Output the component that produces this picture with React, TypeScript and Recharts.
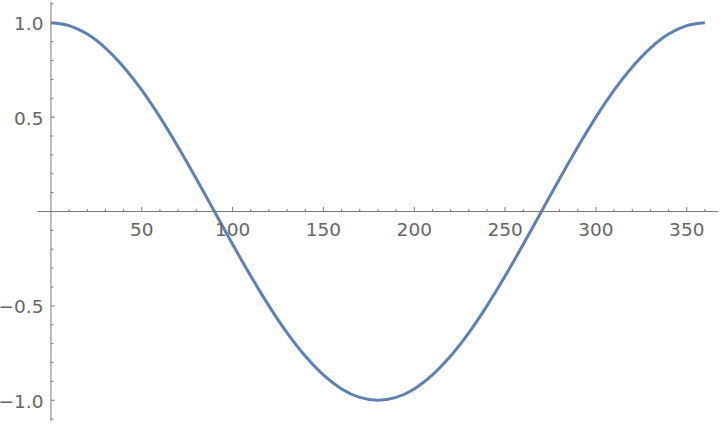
import React from 'react';
import { LineChart, Line, XAxis, YAxis, ReferenceLine } from 'recharts';

// Angles (degrees) and the curve values
const angles = [0, 10, 20, 30, 40, 50, 60, 70, 80, 90, 100, 110, 120, 130, 140, 150, 160, 170, 180, 190, 200, 210, 220, 230, 240, 250, 260, 270, 280, 290, 300, 310, 320, 330, 340, 350, 360];
const curveValues = [1.0, 0.985, 0.94, 0.866, 0.766, 0.643, 0.5, 0.342, 0.174, 0.0, -0.174, -0.342, -0.5, -0.643, -0.766, -0.866, -0.94, -0.985, -1.0, -0.985, -0.94, -0.866, -0.766, -0.643, -0.5, -0.342, -0.174, 0.0, 0.174, 0.342, 0.5, 0.643, 0.766, 0.866, 0.94, 0.985, 1.0];

const xTicks = [10, 20, 30, 40, 50, 60, 70, 80, 90, 100, 110, 120, 130, 140, 150, 160, 170, 180, 190, 200, 210, 220, 230, 240, 250, 260, 270, 280, 290, 300, 310, 320, 330, 340, 350, 360];
const xLabelTicks = [50, 100, 150, 200, 250, 300, 350];
const yTicks = [-1.1, -1.0, -0.9, -0.8, -0.7, -0.6, -0.5, -0.4, -0.3, -0.2, -0.1, 0.1, 0.2, 0.3, 0.4, 0.5, 0.6, 0.7, 0.8, 0.9, 1.0, 1.1];
const yLabelTicks = [-1.0, -0.5, 0.5, 1.0];

const xDomain: [number, number] = [-7.4, 367.3];
const yDomain: [number, number] = [-1.11, 1.11];

const data = angles.map((a, i) => ({ x: a, y: curveValues[i] }));

const W = 720;
const H = 424;
const AXIS_SIZE = 1;
const margin = { top: 2, right: 1.8, bottom: 3 - AXIS_SIZE, left: 37.5 - AXIS_SIZE };
const plotW = W - margin.left - margin.right - AXIS_SIZE;
const plotH = H - margin.top - margin.bottom - AXIS_SIZE;

const AXIS_COLOR = '#7a7a7a';
const LABEL_COLOR = '#666666';
const FONT = '"DejaVu Sans", sans-serif';
const FONT_SIZE = 18.5;

const fmtY = (v: number) => (v < 0 ? '\u2212' + Math.abs(v).toFixed(1) : v.toFixed(1));

const XTick = (props: any) => {
  const { x, y, payload } = props;
  const v = payload.value as number;
  // shift from the plot bottom to the y = 0 line
  const zeroY = y - (plotH * (0 - yDomain[0])) / (yDomain[1] - yDomain[0]);
  const major = xLabelTicks.includes(v);
  const len = major ? 4.5 : 2.5;
  return (
    <g>
      <line x1={x} x2={x} y1={zeroY} y2={zeroY - len} stroke={AXIS_COLOR} strokeWidth={1} />
      {major && (
        <text x={x} y={zeroY + 24.5} textAnchor="middle" fill={LABEL_COLOR} fontFamily={FONT} fontSize={FONT_SIZE}>
          {String(v)}
        </text>
      )}
    </g>
  );
};

const YTick = (props: any) => {
  const { x, y, payload } = props;
  const v = payload.value as number;
  // shift from the plot left edge to the x = 0 line
  const zeroX = x + (plotW * (0 - xDomain[0])) / (xDomain[1] - xDomain[0]);
  const major = yLabelTicks.some((t) => Math.abs(t - v) < 1e-6);
  const len = major ? 4 : 2.5;
  return (
    <g>
      <line x1={zeroX} x2={zeroX + len} y1={y} y2={y} stroke={AXIS_COLOR} strokeWidth={1} />
      {major && (
        <text x={zeroX - 7.5} y={y + 7.5} textAnchor="end" fill={LABEL_COLOR} fontFamily={FONT} fontSize={FONT_SIZE}>
          {fmtY(v)}
        </text>
      )}
    </g>
  );
};

export default function App() {
  return (
    <div style={{ position: 'absolute', left: 0, top: 0, width: W, height: H, background: '#fff' }}>
      <LineChart width={W} height={H} data={data} margin={margin}>
        <XAxis
          dataKey="x"
          type="number"
          domain={xDomain}
          allowDataOverflow
          ticks={xTicks}
          interval={0}
          height={AXIS_SIZE}
          axisLine={false}
          tickLine={false}
          tickSize={0}
          tickMargin={0}
          tick={<XTick />}
        />
        <YAxis
          type="number"
          domain={yDomain}
          allowDataOverflow
          ticks={yTicks}
          interval={0}
          width={AXIS_SIZE}
          axisLine={false}
          tickLine={false}
          tickSize={0}
          tickMargin={0}
          tick={<YTick />}
        />
        <ReferenceLine y={0} stroke={AXIS_COLOR} strokeWidth={1} ifOverflow="extendDomain" />
        <ReferenceLine x={0} stroke={AXIS_COLOR} strokeWidth={1} ifOverflow="extendDomain" />
        <Line
          type="monotone"
          dataKey="y"
          stroke="#5E81B5"
          strokeWidth={3}
          dot={false}
          isAnimationActive={false}
        />
      </LineChart>
    </div>
  );
}
